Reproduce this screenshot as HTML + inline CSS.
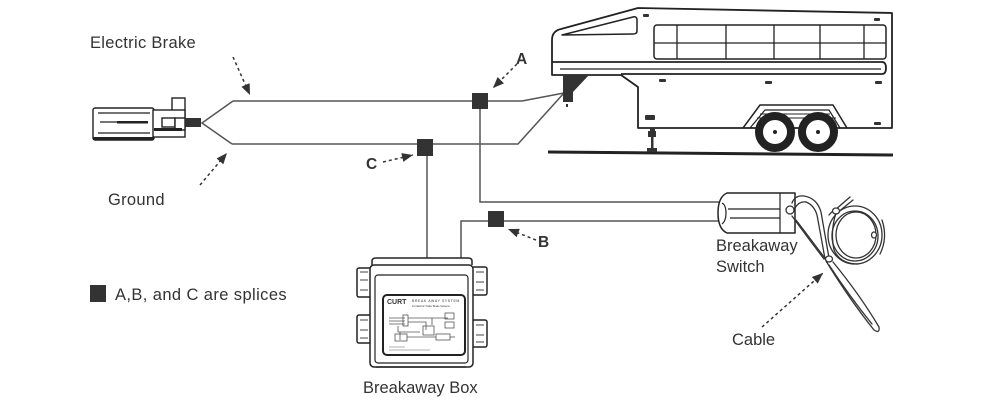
<!DOCTYPE html>
<html><head><meta charset="utf-8"><style>
html,body{margin:0;padding:0;background:#fff;}
svg{display:block;}
text{font-family:"Liberation Sans",Arial,sans-serif;fill:#333;}
</style></head><body>
<svg width="984" height="400" viewBox="0 0 984 400" xmlns="http://www.w3.org/2000/svg">
<defs>
<marker id="ah" markerUnits="userSpaceOnUse" markerWidth="12" markerHeight="10" refX="11" refY="4.5" orient="auto">
<path d="M0,0 L11,4.5 L0,9 Z" fill="#333"/>
</marker>
</defs>
<rect width="984" height="400" fill="#fff"/>

<!-- Labels -->
<text x="90" y="48" font-size="16.5" letter-spacing="0.3">Electric Brake</text>
<text x="108" y="205" font-size="16.5" letter-spacing="0.3">Ground</text>
<text x="115" y="300" font-size="16.5" letter-spacing="0.4">A,B, and C are splices</text>
<rect x="90" y="285" width="16" height="17" fill="#333"/>
<text x="363" y="393" font-size="16.5" letter-spacing="0">Breakaway Box</text>
<text x="716" y="251" font-size="16.5">Breakaway</text>
<text x="716" y="272" font-size="16.5">Switch</text>
<text x="732" y="345" font-size="16.5">Cable</text>
<text x="516" y="64" font-size="15.5" font-weight="bold">A</text>
<text x="366" y="169" font-size="15.5" font-weight="bold">C</text>
<text x="538" y="247" font-size="15.5" font-weight="bold">B</text>

<!-- Dashed arrows -->
<g stroke="#333" stroke-width="1.5" stroke-dasharray="3,3" fill="none" marker-end="url(#ah)">
<line x1="233" y1="57" x2="250" y2="95"/>
<line x1="200" y1="185" x2="227" y2="153"/>
<line x1="517" y1="64" x2="493" y2="88"/>
<line x1="383" y1="162" x2="413" y2="155"/>
<line x1="536" y1="240" x2="508" y2="229"/>
<line x1="762" y1="327" x2="823" y2="273"/>
</g>

<!-- Wires -->
<g stroke="#555" stroke-width="1.5" fill="none">
<path d="M233,101 L202,123 L232,144"/>
<path d="M233,101 L522,101 L564,93"/>
<path d="M232,144 L518,144 L564,93"/>
<path d="M480,101 L480,202 L720,202"/>
<path d="M427,147 L427,259"/>
<path d="M461,259 L461,221 L720,221"/>
</g>

<!-- Splices -->
<rect x="472" y="93" width="16" height="16" fill="#333"/>
<rect x="417" y="139" width="16" height="17" fill="#333"/>
<rect x="488" y="211" width="16" height="16" fill="#333"/>

<!-- Electric brake -->
<g stroke="#222" stroke-width="1.4" fill="#fff">
<rect x="172" y="98" width="13" height="19"/>
<rect x="93" y="108" width="61" height="32" rx="2"/>
<rect x="153" y="110" width="32" height="27"/>
<rect x="162" y="118" width="13" height="9"/>
<rect x="175" y="118" width="10" height="12"/>
</g>
<rect x="93" y="137" width="61" height="3" fill="#222"/>
<rect x="154" y="128" width="28" height="3" fill="#222"/>
<g stroke="#222" stroke-width="1.2">
<line x1="98" y1="113" x2="150" y2="113"/>
<line x1="100" y1="122" x2="117" y2="122"/>
<line x1="98" y1="133" x2="150" y2="133"/>
</g>
<rect x="117" y="121" width="31" height="2.5" fill="#222"/>
<rect x="185" y="118" width="16" height="9" fill="#333"/>

<!-- Trailer -->
<g stroke="#222" stroke-width="1.8" fill="none" stroke-linejoin="round">
<path d="M638,128 L638,87 L621,75 L552,75 L552,40 Q552,31 561,29 L638,8 L892,13 L892,128 Z"/>
<path d="M552,62 L882,62 Q886,62 886,68 Q886,74 882,74 L621,74"/>
<path d="M560,69 L881,69" stroke-width="1.3"/>
<path d="M562,35 L633,17 Q637,16 637,20 L637,31 Q637,34 633,34 Z" stroke-width="1.5"/>
<rect x="654" y="25" width="232" height="34" rx="3" stroke-width="1.5"/>
<path d="M654,43 L886,43 M677,25 L677,59 M726,25 L726,59 M774,25 L774,59 M820,25 L820,59 M864,25 L864,59" stroke-width="1.3"/>
<path d="M743,128 L760,105 L833,105 L847,128" stroke-width="1.5"/>
<path d="M750,128 L765,110 L829,110 L840,128" stroke-width="1.2"/>
<path d="M760,114 L830,114 M757,118 L836,118" stroke-width="1"/>
</g>
<line x1="548" y1="152" x2="893" y2="155" stroke="#222" stroke-width="3"/>
<!-- coupler -->
<path d="M563,75 L589,75 L573,92 L573,102 L563,102 Z" fill="#333"/>
<rect x="566" y="104" width="2" height="3" fill="#333"/>
<!-- markers -->
<g fill="#333">
<rect x="643" y="14" width="6" height="3" rx="1"/>
<rect x="874" y="18" width="6" height="3" rx="1"/>
<rect x="659" y="79" width="7" height="3" rx="1"/>
<rect x="765" y="81" width="7" height="3" rx="1"/>
<rect x="875" y="81" width="7" height="3" rx="1"/>
<rect x="874" y="122" width="7" height="3" rx="1"/>
<rect x="645" y="115" width="10" height="5" rx="1"/>
</g>
<!-- jack -->
<g fill="#333">
<rect x="650" y="128" width="5" height="3"/>
<rect x="648" y="131" width="8" height="6"/>
<rect x="651" y="137" width="2.5" height="11"/>
<rect x="647" y="148" width="10" height="4"/>
</g>
<!-- wheels -->
<g>
<circle cx="775" cy="132" r="16" fill="#fff" stroke="#222" stroke-width="8"/>
<circle cx="818" cy="132" r="16" fill="#fff" stroke="#222" stroke-width="8"/>
<circle cx="775" cy="132" r="2" fill="#222"/>
<circle cx="818" cy="132" r="2" fill="#222"/>
</g>

<!-- Breakaway box -->
<g stroke="#222" stroke-width="1.5" fill="#fff" stroke-linejoin="round">
<rect x="357" y="268" width="16" height="29" rx="2"/>
<rect x="357" y="315" width="16" height="28" rx="2"/>
<rect x="472" y="267" width="15" height="28" rx="2"/>
<rect x="472" y="320" width="15" height="27" rx="2"/>
<path d="M372,265 L372,261 Q372,258 376,258 L468,258 Q472,258 472,261 L472,265"/>
<rect x="370" y="265" width="103" height="102" rx="4"/>
<rect x="375" y="275" width="93" height="88" rx="3" stroke-width="1.2"/>
<rect x="383" y="295" width="82" height="60" rx="4" stroke-width="2"/>
</g>
<g stroke="#444" stroke-width="1" fill="none">
<path d="M360,272 L368,272 M360,280 L368,280 M360,290 L368,290 M360,320 L368,320 M360,330 L368,330 M360,338 L368,338"/>
<path d="M476,272 L484,272 M476,282 L484,282 M476,290 L484,290 M476,325 L484,325 M476,335 L484,335 M476,342 L484,342"/>
<line x1="376" y1="367" x2="466" y2="367" stroke-width="2"/>
</g>
<text x="387" y="304" font-size="7" font-weight="bold" fill="#333">CURT</text>
<text x="412" y="302" font-size="3.5" fill="#555" letter-spacing="0.6">BREAK AWAY SYSTEM</text>
<text x="412" y="307" font-size="2.5" fill="#777">For Electric Trailer Brake Systems</text>
<g stroke="#555" stroke-width="0.8" fill="none">
<path d="M389,318 L405,318 M389,321 L405,321 M389,324 L405,324"/>
<rect x="403" y="315" width="5" height="11"/>
<path d="M408,318 L448,318 M408,322 L426,322 L426,330 M432,318 L432,325"/>
<rect x="423" y="326" width="11" height="9"/>
<rect x="445" y="313" width="9" height="6"/>
<rect x="445" y="322" width="9" height="6"/>
<path d="M398,326 L398,332 L420,332 M400,332 L400,340"/>
<rect x="395" y="334" width="12" height="7"/>
<path d="M407,337 L436,337"/>
<rect x="436" y="334" width="14" height="6"/>
<path d="M450,337 L455,337"/>
<path d="M389,347 L405,347 M389,350 L430,350" stroke="#999"/>
</g>

<!-- Breakaway switch -->
<g stroke="#222" stroke-width="1.5" fill="#fff" stroke-linejoin="round">
<path d="M727,193 L795,193 L795,233 L727,233 Q718,229 718,213 Q718,197 727,193 Z"/>
</g>
<g stroke="#222" stroke-width="1.2" fill="none">
<path d="M780,193 L780,233"/>
<path d="M728,209 L780,209 M730,218 L780,218"/>
<path d="M722,203 Q726,205 726,213 Q726,221 722,224"/>
</g>

<!-- Cable -->
<g stroke="#333" stroke-width="1.3" fill="none" stroke-linecap="round" stroke-linejoin="round">
<path d="M792,203 Q795,195 804,196 Q817,198 821,212 Q825,235 829,258"/>
<path d="M795,208 Q799,201 806,202 Q814,205 817,215 Q821,236 825,259"/>
<path d="M792,216 Q805,234 824,259"/>
<path d="M796,220 Q809,237 827,261"/>
<path d="M826,261 Q850,300 874,330 Q880,334 879,327 Q860,295 833,262"/>
<path d="M829,265 Q850,297 872,324"/>
<ellipse cx="855" cy="235" rx="27" ry="29"/>
<ellipse cx="855" cy="236" rx="23" ry="25"/>
<ellipse cx="856" cy="235" rx="20" ry="23"/>
<path d="M836,213 Q830,232 834,250 Q840,264 858,264"/>
<path d="M882,220 Q888,238 880,254"/>
<path d="M835,210 L850,197"/>
<path d="M837,213 L853,200"/>
<path d="M829,215 Q833,210 838,208"/>
<ellipse cx="829" cy="259" rx="3.5" ry="3" fill="#fff"/>
<ellipse cx="836" cy="211" rx="3.5" ry="3" fill="#fff"/>
<ellipse cx="874" cy="235" rx="2.5" ry="3" fill="#fff"/>
<ellipse cx="790" cy="210" rx="4" ry="4" fill="#fff"/>
</g>
</svg>
</body></html>
